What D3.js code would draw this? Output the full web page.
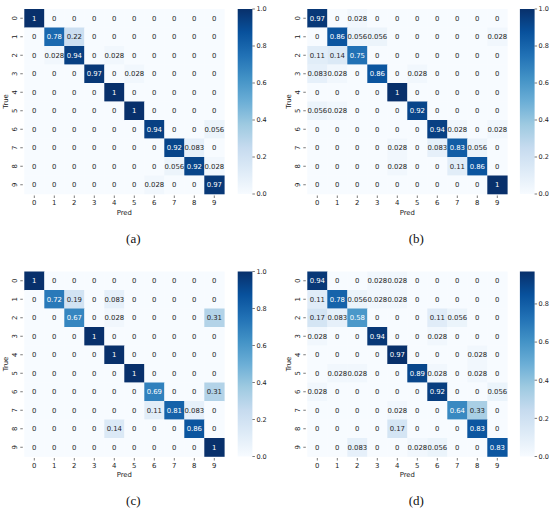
<!DOCTYPE html>
<html>
<head>
<meta charset="utf-8">
<script src="https://cdn.jsdelivr.net/npm/d3@7"></script>
<style>
  html, body { margin: 0; padding: 0; background: #fff; }
  svg { display: block; }
</style>
</head>
<body>
<svg id="chart" width="550" height="512"></svg>
<script>
const classLabels = ["0","1","2","3","4","5","6","7","8","9"];
const panelCaptions = ["(a)", "(b)", "(c)", "(d)"];
const xAxisTitle = "Pred";
const yAxisTitle = "True";
const blues = ["#f7fbff","#deebf7","#c6dbef","#9ecae1","#6baed6","#4292c6","#2171b5","#08519c","#08306b"];

const matA = [
  [1,0,0,0,0,0,0,0,0,0],
  [0,0.78,0.22,0,0,0,0,0,0,0],
  [0,0.028,0.94,0,0.028,0,0,0,0,0],
  [0,0,0,0.97,0,0.028,0,0,0,0],
  [0,0,0,0,1,0,0,0,0,0],
  [0,0,0,0,0,1,0,0,0,0],
  [0,0,0,0,0,0,0.94,0,0,0.056],
  [0,0,0,0,0,0,0,0.92,0.083,0],
  [0,0,0,0,0,0,0,0.056,0.92,0.028],
  [0,0,0,0,0,0,0.028,0,0,0.97]
];
const matB = [
  [0.97,0,0.028,0,0,0,0,0,0,0],
  [0,0.86,0.056,0.056,0,0,0,0,0,0.028],
  [0.11,0.14,0.75,0,0,0,0,0,0,0],
  [0.083,0.028,0,0.86,0,0.028,0,0,0,0],
  [0,0,0,0,1,0,0,0,0,0],
  [0.056,0.028,0,0,0,0.92,0,0,0,0],
  [0,0,0,0,0,0,0.94,0.028,0,0.028],
  [0,0,0,0,0.028,0,0.083,0.83,0.056,0],
  [0,0,0,0,0.028,0,0,0.11,0.86,0],
  [0,0,0,0,0,0,0,0,0,1]
];
const matC = [
  [1,0,0,0,0,0,0,0,0,0],
  [0,0.72,0.19,0,0.083,0,0,0,0,0],
  [0,0,0.67,0,0.028,0,0,0,0,0.31],
  [0,0,0,1,0,0,0,0,0,0],
  [0,0,0,0,1,0,0,0,0,0],
  [0,0,0,0,0,1,0,0,0,0],
  [0,0,0,0,0,0,0.69,0,0,0.31],
  [0,0,0,0,0,0,0.11,0.81,0.083,0],
  [0,0,0,0,0.14,0,0,0,0.86,0],
  [0,0,0,0,0,0,0,0,0,1]
];
const matD = [
  [0.94,0,0,0.028,0.028,0,0,0,0,0],
  [0.11,0.78,0.056,0.028,0.028,0,0,0,0,0],
  [0.17,0.083,0.58,0,0,0,0.11,0.056,0,0],
  [0.028,0,0,0.94,0,0,0.028,0,0,0],
  [0,0,0,0,0.97,0,0,0,0.028,0],
  [0,0.028,0.028,0,0,0.89,0.028,0,0.028,0],
  [0.028,0,0,0,0,0,0.92,0,0,0.056],
  [0,0,0,0,0.028,0,0,0.64,0.33,0],
  [0,0,0,0,0.17,0,0,0,0.83,0],
  [0,0,0.083,0,0,0.028,0.056,0,0,0.83]
];
const cbTicksFull = [0,0.2,0.4,0.6,0.8,1.0];

const matrices = [matA, matB, matC, matD];
const svg = d3.select("#chart");
const FONT = "DejaVu Sans, sans-serif";
const FS = 6.9;
const CBFS = 6.5;
const fmt = d3.format(".2~g");

function luminance(c) {
  const rgb = d3.rgb(c);
  const f = v => { v /= 255; return v <= 0.03928 ? v / 12.92 : Math.pow((v + 0.055) / 1.055, 2.4); };
  return 0.2126 * f(rgb.r) + 0.7152 * f(rgb.g) + 0.0722 * f(rgb.b);
}

const panels = [
  {left: 24.3, top: 9, w: 200, h: 185, cbGap: 13.4},
  {left: 307.3, top: 9, w: 200, h: 185, cbGap: 12.6},
  {left: 24.3, top: 271.5, w: 200, h: 185, cbGap: 13.4},
  {left: 307.3, top: 271.5, w: 200, h: 185, cbGap: 12.6}
];

panels.forEach((p, pi) => {
  const mat = matrices[pi];
  const vmax = d3.max(mat.flat());
  const vmin = d3.min(mat.flat());
  const color = d3.scaleLinear()
    .domain(blues.map((_, i) => vmin + (vmax - vmin) * i / (blues.length - 1)))
    .range(blues).clamp(true);

  const x = d3.scaleBand().domain(classLabels).range([p.left, p.left + p.w]);
  const y = d3.scaleBand().domain(classLabels).range([p.top, p.top + p.h]);
  const g = svg.append("g");

  const cells = [];
  mat.forEach((row, ri) => row.forEach((v, ci) => cells.push({r: classLabels[ri], c: classLabels[ci], v})));

  g.selectAll("rect.cell").data(cells).join("rect")
    .attr("x", d => x(d.c)).attr("y", d => y(d.r))
    .attr("width", x.bandwidth() + 0.3).attr("height", y.bandwidth() + 0.3)
    .attr("fill", d => color(d.v));

  g.selectAll("text.ann").data(cells).join("text")
    .attr("x", d => x(d.c) + x.bandwidth() / 2)
    .attr("y", d => y(d.r) + y.bandwidth() / 2)
    .attr("dy", "0.36em")
    .attr("text-anchor", "middle")
    .attr("font-family", FONT).attr("font-size", FS)
    .attr("fill", d => luminance(color(d.v)) > 0.408 ? "#262626" : "#ffffff")
    .text(d => fmt(d.v));

  // x axis
  const bottom = p.top + p.h;
  classLabels.forEach(l => {
    const cx = x(l) + x.bandwidth() / 2;
    g.append("line").attr("x1", cx).attr("x2", cx).attr("y1", bottom + 1.5).attr("y2", bottom + 4)
      .attr("stroke", "#222").attr("stroke-width", 0.6);
    g.append("text").attr("x", cx).attr("y", bottom + 11.3).attr("text-anchor", "middle")
      .attr("font-family", FONT).attr("font-size", FS).attr("fill", "#222").text(l);
  });
  g.append("text").attr("x", p.left + p.w / 2).attr("y", bottom + 20.5).attr("text-anchor", "middle")
    .attr("font-family", FONT).attr("font-size", FS).attr("fill", "#222").text(xAxisTitle);

  // y axis
  classLabels.forEach(l => {
    const cy = y(l) + y.bandwidth() / 2;
    g.append("line").attr("x1", p.left - 4).attr("x2", p.left - 1.5).attr("y1", cy).attr("y2", cy)
      .attr("stroke", "#222").attr("stroke-width", 0.6);
    g.append("text").attr("transform", `translate(${p.left - 7.8},${cy}) rotate(-90)`)
      .attr("text-anchor", "middle")
      .attr("font-family", FONT).attr("font-size", FS).attr("fill", "#222").text(l);
  });
  g.append("text").attr("transform", `translate(${p.left - 16},${p.top + p.h / 2}) rotate(-90)`)
    .attr("text-anchor", "middle")
    .attr("font-family", FONT).attr("font-size", FS).attr("fill", "#222").text(yAxisTitle);

  // colorbar
  const cbX = p.left + p.w + p.cbGap, cbW = 14.7;
  const cy = d3.scaleLinear().domain([vmin, vmax]).range([bottom, p.top]);
  const gid = "grad" + pi;
  const grad = svg.append("defs").append("linearGradient").attr("id", gid)
    .attr("x1", 0).attr("y1", 1).attr("x2", 0).attr("y2", 0);
  blues.forEach((c, i) => grad.append("stop").attr("offset", i / (blues.length - 1)).attr("stop-color", c));
  g.append("rect").attr("x", cbX).attr("y", p.top).attr("width", cbW).attr("height", p.h)
    .attr("fill", `url(#${gid})`);
  const ticks = cbTicksFull.filter(t => t <= vmax + 1e-9);
  ticks.forEach(t => {
    const ty = cy(t);
    g.append("line").attr("x1", cbX + cbW).attr("x2", cbX + cbW + 2.5).attr("y1", ty).attr("y2", ty)
      .attr("stroke", "#222").attr("stroke-width", 0.6);
    g.append("text").attr("x", cbX + cbW + 4).attr("y", ty).attr("dy", "0.36em")
      .attr("font-family", FONT).attr("font-size", CBFS).attr("fill", "#222").text(d3.format(".1f")(t));
  });

  // caption
  g.append("text").attr("x", p.left + 109).attr("y", bottom + 48.5).attr("text-anchor", "middle")
    .attr("font-family", "Liberation Serif, DejaVu Serif, serif").attr("font-size", 13).attr("fill", "#111")
    .text(panelCaptions[pi]);
});
</script>
</body>
</html>
